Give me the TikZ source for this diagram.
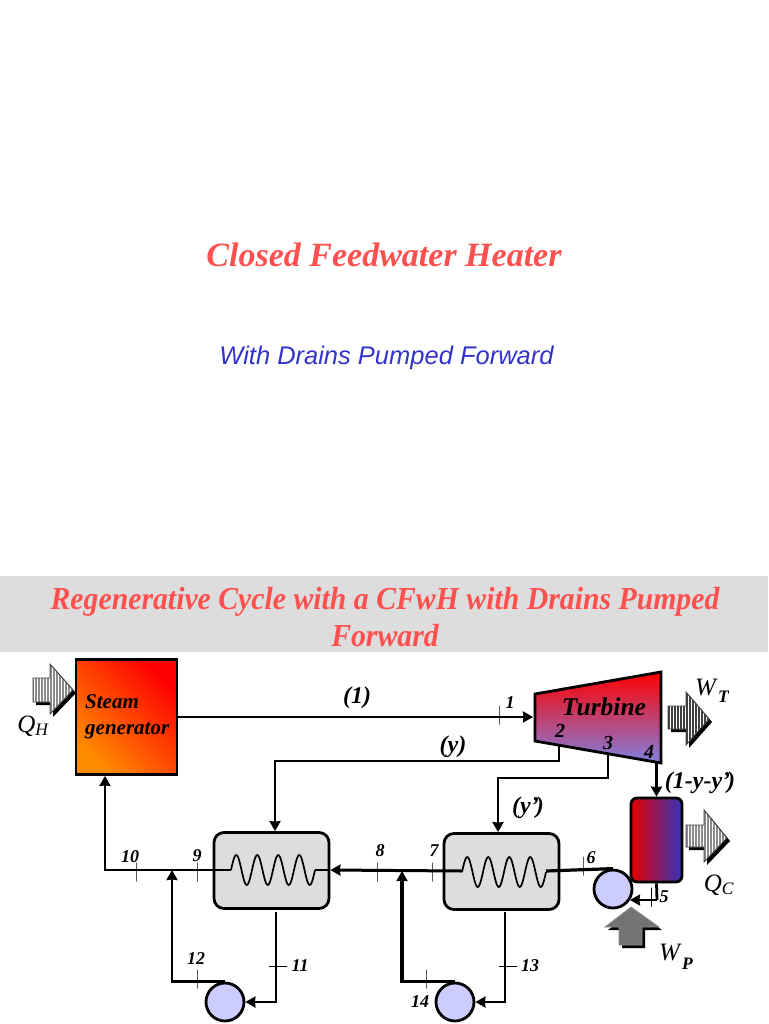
\documentclass[tikz,border=0pt]{standalone}
\usepackage{fontspec}
\setmainfont{Liberation Serif}
\newfontfamily\arialfont{Liberation Sans}
\usepackage{tikz}
\usetikzlibrary{positioning, arrows.meta, patterns.meta, shadings, calc}

\definecolor{titlered}{HTML}{FF5050}
\definecolor{subblue}{HTML}{3333CC}
\definecolor{bandgray}{HTML}{DDDDDD}
\definecolor{pumpblue}{HTML}{CCCCFF}
\definecolor{condblue}{HTML}{3333BB}
\definecolor{turbblue}{HTML}{8080E0}

\begin{document}
\begin{tikzpicture}[
    x=1pt, y=-1pt,
    pipe/.style={line width=2.8pt, line join=miter},
    arrow/.style={pipe, -{Stealth[length=10pt, width=11pt, inset=0.5pt]}},
    heater/.style={draw, line width=2.8pt, rectangle, rounded corners=10pt, fill=bandgray, minimum width=115pt, minimum height=76pt},
    pump/.style={draw, line width=2.8pt, circle, fill=pumpblue, minimum size=38pt, inner sep=0pt},
    coil/.style={line width=1.7pt},
    vtick/.style={draw, line width=0.6pt, minimum width=0pt, minimum height=19pt, inner sep=0pt},
    htick/.style={draw, line width=0.6pt, minimum width=18pt, minimum height=0pt, inner sep=0pt},
    num/.style={font=\bfseries\itshape\fontsize{18}{18}\selectfont, inner sep=0pt},
    tnum/.style={font=\bfseries\itshape\fontsize{20}{20}\selectfont, inner sep=0pt},
    flow/.style={font=\bfseries\itshape\fontsize{24}{24}\selectfont, inner sep=0pt},
    qty/.style={font=\itshape\fontsize{25}{25}\selectfont, inner sep=0pt},
    stripes/.style={draw=black!75, line width=0.9pt, preaction={fill=white}, pattern={Lines[angle=90, distance=3pt, line width=1.2pt]}, pattern color=black!45}
]
\useasboundingbox (0,0) rectangle (768,1024);

\node[font=\bfseries\itshape\fontsize{34}{34}\selectfont, text=titlered] (title) at (384,255) {Closed Feedwater Heater};
\node[font=\arialfont\itshape\fontsize{25.5}{25.5}\selectfont, text=subblue] (subtitle) at (386.5,357.5) {With Drains Pumped Forward};

\fill[bandgray] (0,576) rectangle (768,652);
\node[font=\bfseries\itshape\fontsize{32}{32}\selectfont, text=titlered, xscale=0.93] (band1) at (385,602) {Regenerative Cycle with a CFwH with Drains Pumped};
\node[font=\bfseries\itshape\fontsize{32}{32}\selectfont, text=titlered, xscale=0.93] (band2) at (385,636) {Forward};

% components
\node[draw, line width=2.8pt, rectangle, minimum width=101pt, minimum height=115pt, bottom color=orange!90!yellow, top color=red, shading angle=-45] (sg) at (126.5,717) {};
\node[font=\bfseries\itshape\fontsize{21}{26}\selectfont, align=left, anchor=west, inner sep=0pt] (sgtxt) at (85,717) {Steam\\generator};

\draw[line width=2.8pt, line join=miter, top color=red, bottom color=turbblue] (535,694) coordinate (tb1) -- (661,672) -- (661,763) coordinate (tb4) -- (535,741) -- cycle;
\node[font=\bfseries\itshape\fontsize{25.5}{25.5}\selectfont, inner sep=0pt] (turb) at (604,707) {Turbine};
\node[tnum] (n2) at (560,731) {2};
\node[tnum] (n3) at (608,743) {3};
\node[tnum] (n4) at (649,752) {4};

\node[heater] (fwh1) at (271.5,870.5) {};
\node[heater] (fwh2) at (501.5,871.5) {};
\draw[coil] plot[domain=0:84, samples=90] ({231+\x},{870-15*sin(\x/21*360)});
\draw[coil] plot[domain=0:84, samples=90] ({462+\x},{872-15*sin(\x/21*360)});

\node[draw, line width=2.8pt, rectangle, rounded corners=6pt, minimum width=51pt, minimum height=84pt, left color=red!90!black, right color=condblue] (cond) at (656.5,840) {};

\node[pump] (pump1) at (225,1002) {};
\node[pump] (pump2) at (613,889) {};
\node[pump] (pump3) at (455,1002) {};

% connectors
\coordinate (tin) at (533,717);
\coordinate (ext2) at (559,745);
\coordinate (ybend) at (275,761);
\coordinate (ext3) at (608,755);
\coordinate (ypbend) at (498,778);
\coordinate (c1in) at (231,870);
\coordinate (c1out) at (315,870);
\coordinate (c2in) at (462,871);
\coordinate (c2out) at (546,871);
\coordinate (mix1) at (172,870);
\coordinate (mix2) at (402,871);
\coordinate (sgfeed) at (105,870);
\coordinate (drain1) at (276,912);
\coordinate (drain2) at (505,912);
\coordinate (condout) at (657,900);
\coordinate (pump2in) at (630,900);

\draw[arrow] (sg.east |- tin) -- (tin);
\draw[arrow] (ext2) |- (ybend) -- (ybend |- fwh1.north);
\draw[arrow] (ext3) |- (ypbend) -- (ypbend |- fwh2.north);
\draw[arrow] (tb4 -| cond.north) -- (cond.north);
\draw[arrow] (c1in) -| (sgfeed |- sg.south);
\draw[pipe] (c1out) -- (fwh1.east |- c1out);
\draw[arrow, line width=3pt] (c2in) -- (fwh1.east |- c1out);
\draw[pipe, line width=3.2pt] (c2out) -- (pump2.north);
\draw[arrow] (pump1.north) -| (mix1);
\draw[arrow, line width=3.2pt] (pump3.north) -| (mix2);
\draw[arrow] (drain1) |- (pump1.east);
\draw[arrow] (drain2) |- (pump3.east);
\draw[pipe] (cond.south) -- (condout);
\draw[arrow, line width=1.8pt] (condout) -- (pump2in);

% state points
\node[vtick] (t1) at (499,715) {};
\node[vtick] (t5) at (651,897) {};
\node[vtick] (t6) at (583,866) {};
\node[vtick] (t7) at (432,872) {};
\node[vtick] (t8) at (377,872) {};
\node[vtick] (t9) at (197,872) {};
\node[vtick] (t10) at (136,872) {};
\node[htick] (t11) at (278,966) {};
\node[vtick] (t12) at (197,979) {};
\node[htick] (t13) at (508,966) {};
\node[vtick] (t14) at (426,979) {};

\node[num] (n1) at (510,703) {1};
\node[num] (n5) at (664,897) {5};
\node[num] (n6) at (591,858) {6};
\node[num] (n7) at (434,851) {7};
\node[num] (n8) at (380,851) {8};
\node[num] (n9) at (197,856) {9};
\node[num] (n10) at (130,857) {10};
\node[num] (n11) at (300,966) {11};
\node[num] (n12) at (196,959) {12};
\node[num] (n13) at (530,966) {13};
\node[num] (n14) at (420,1002) {14};

\node[flow] (m1) at (357,698) {(1)};
\node[flow] (my) at (453,747) {(y)};
\node[flow] (myp) at (528,808) {(y'\kern-3pt)};
\node[flow] (mrest) at (700,783) {(1-y-y'\kern-3pt)};

% energy flows
\fill (36,682) -- (53,682) -- (53,667) -- (76,693) -- (53,717) -- (53,705) -- (36,705) -- cycle;
\draw[stripes] (33,678) -- (50,678) -- (50,664) -- (73,690) -- (50,714) -- (50,702) -- (33,702) -- cycle;
\node[qty] (qh) at (33,726) {Q\textsubscript{H}};

\fill (671,709) -- (689,709) -- (689,695) -- (712,722) -- (689,748) -- (689,732) -- (671,732) -- cycle;
\draw[stripes, pattern={Lines[angle=90, distance=3pt, line width=1.6pt]}, pattern color=black!75] (668,706) -- (686,706) -- (686,692) -- (709,719) -- (686,745) -- (686,729) -- (668,729) -- cycle;
\node[qty, anchor=west] (wt) at (695,691) {W\kern2pt\raisebox{-3pt}{\textsubscript{\bfseries T}}};

\fill (689,828) -- (707,828) -- (707,813) -- (730,841) -- (707,865) -- (707,850) -- (689,850) -- cycle;
\draw[stripes] (686,825) -- (704,825) -- (704,810) -- (727,838) -- (704,862) -- (704,847) -- (686,847) -- cycle;
\node[qty] (qc) at (719,885) {Q\textsubscript{C}};

\fill (608,930) -- (634,910) -- (662,930) -- (645,930) -- (645,948) -- (622,948) -- (622,930) -- cycle;
\draw[draw=gray!90, fill=gray!90!black, line width=0.8pt] (605,927) -- (631,907) -- (659,927) -- (642,927) -- (642,945) -- (619,945) -- (619,927) -- cycle;
\node[qty, anchor=west] (wp) at (659,957) {W\kern2pt\raisebox{-5pt}{\textsubscript{\bfseries P}}};
\end{tikzpicture}
\end{document}
